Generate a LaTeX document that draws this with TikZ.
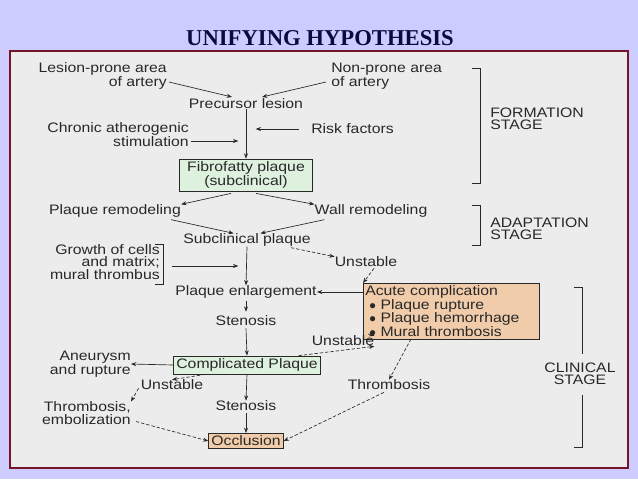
\documentclass[tikz,border=0pt]{standalone}
\usepackage{fontspec}
\setmainfont[FakeStretch=1.15]{Liberation Sans}
\newfontfamily\titlefont{Liberation Serif}
\usetikzlibrary{arrows.meta}
\definecolor{bgl}{RGB}{204,204,255}
\definecolor{panel}{RGB}{236,236,236}
\definecolor{frame}{RGB}{120,20,40}
\definecolor{gbox}{RGB}{222,240,222}
\definecolor{obox}{RGB}{240,204,170}
\definecolor{ttl}{RGB}{10,10,60}
\definecolor{ink}{RGB}{40,40,40}
\begin{document}
\begin{tikzpicture}[x=0.75pt,y=-0.75pt,
  lbl/.style={inner sep=0pt,font=\fontsize{10.3}{9.3}\selectfont,text=ink},
  lr/.style={lbl,align=right},
  ll/.style={lbl,align=left},
  lc/.style={lbl,align=center},
  boxg/.style={lbl,draw=ink,fill=gbox,inner sep=2pt},
  boxo/.style={lbl,draw=ink,fill=obox,inner sep=2pt},
  ar/.style={-{Stealth[length=4pt,width=3pt]},draw=ink,line width=0.5pt},
  dar/.style={ar,dashed,dash pattern=on 2.5pt off 1.5pt},
  brk/.style={draw=ink,line width=0.5pt}]
\useasboundingbox (0,0) rectangle (638,479);
\fill[bgl] (0,0) rectangle (638,479);
\filldraw[fill=panel,draw=frame,line width=0.8pt] (10,51) rectangle (628,468);
\node[font=\titlefont\bfseries\fontsize{17}{17}\selectfont,text=ttl] (title) at (320,38) {UNIFYING HYPOTHESIS};

\node[lr,anchor=east] (lp) at (167,76) {Lesion-prone area\\of artery};
\node[ll,anchor=west] (np) at (331,76) {Non-prone area\\of artery};
\node[lc] (pl) at (246,104) {Precursor lesion};
\node[lr,anchor=east] (ch) at (189,135) {Chronic atherogenic\\stimulation};
\node[ll,anchor=west] (rf) at (311,129) {Risk factors};
\node[boxg,align=center,minimum width=133*0.75pt] (ff) at (246,175) {Fibrofatty plaque\\(subclinical)};
\node[lc] (pr) at (115,211) {Plaque remodeling};
\node[lc] (wr) at (371,211) {Wall remodeling};
\node[lc] (sp) at (247,240) {Subclinical plaque};
\node[lr,anchor=east] (gr) at (160,262) {Growth of cells\\and matrix;\\mural thrombus};
\node[lc] (un1) at (366,262) {Unstable};
\node[boxo,align=left,anchor=north west,text width=172*0.75pt,font=\fontsize{10.3}{10.4}\selectfont,inner sep=1.5pt] (ac) at (363,283)
 {Acute complication\\\hspace*{3pt}$\bullet$ Plaque rupture\\\hspace*{3pt}$\bullet$ Plaque hemorrhage\\\hspace*{3pt}$\bullet$ Mural thrombosis};
\node[lc] (pe) at (246,292) {Plaque enlargement};
\node[lc] (st1) at (246,321) {Stenosis};
\node[lc] (un2) at (343,341) {Unstable};
\node[boxg] (cp) at (247,365) {Complicated Plaque};
\node[lr,anchor=east] (an) at (131,364) {Aneurysm\\and rupture};
\node[lc] (un3) at (172,385) {Unstable};
\node[lc] (th) at (389,385) {Thrombosis};
\node[lr,anchor=east] (te) at (131,413) {Thrombosis,\\embolization};
\node[lc] (st2) at (246,406) {Stenosis};
\node[boxo] (oc) at (246,441) {Occlusion};

\coordinate (v1) at (245,129);
\coordinate (v2) at (245,141);
\coordinate (v3) at (245,266);
\coordinate (acb) at (368,334);
\coordinate (acd) at (411,339);
\draw[ar] (lp.east) ++(2,6) -- (232,97);
\draw[ar] (np.west) ++(-5,6) -- (262,97);
\draw[ar] (pl.south -| ff.north) -- (ff.north);
\draw[ar] (rf.west) ++(-12,0) -- ([xshift=8pt]v1);
\draw[ar] (ch.east) ++(2,6) -- ([xshift=-5pt]v2);
\draw[ar] (ff.south) ++(-15,2) -- (pr.north east);
\draw[ar] (ff.south) ++(10,2) -- (wr.north west);
\draw[ar] (pr.south east) ++(-10,2) -- ([xshift=-10]sp.north);
\draw[ar] (wr.south west) ++(10,2) -- ([xshift=10]sp.north);
\draw[brk] (155,244) -- (163,244) -- (163,284) -- (155,284);
\draw[ar] (172,266) -- ([xshift=-5pt]v3);
\draw[ar] (sp.south) -- (pe.north);
\draw[dar] (sp.south east) ++(-20,1) -- (un1.north west);
\draw[dar] (un1.south) ++(8,1) -- (ac.north west);
\draw[ar] (ac.west |- pe) -- (pe.east);
\draw[ar] (pe.south) ++(0,2) -- ([yshift=3]st1.north);
\draw[ar] (st1.south) ++(0,2) -- (cp.north);
\draw[ar] (cp.west) -- (an.east);
\draw[dar] (acb) -- (un2.north east);
\draw[dar] (cp.north east) ++(-22,0) -- (un2.south east);
\draw[dar] (cp.south west) ++(32,0) -- (un3.north);
\draw[dar] (un3.south west) ++(-2,-2) -- (te.north east);
\draw[dar] (acd) -- (th.north);
\draw[ar] (cp.south) -- (st2.north);
\draw[ar] (st2.south) ++(0,2) -- (oc.north);
\draw[dar] (te.south east) ++(5,-3) -- (oc.west);
\draw[dar] (th.south) ++(-5,2) -- (oc.east);

\draw[brk] (472,68) -- (480,68) -- (480,183) -- (472,183);
\node[ll,anchor=west] (fs) at (490,119) {FORMATION\\STAGE};
\draw[brk] (472,205) -- (480,205) -- (480,245) -- (472,245);
\node[ll,anchor=west] (as) at (490,229) {ADAPTATION\\STAGE};
\draw[brk] (574,287) -- (582,287) -- (582,354);
\draw[brk] (582,395) -- (582,447) -- (574,447);
\node[lc] (cs) at (580,374) {CLINICAL\\STAGE};
\end{tikzpicture}
\end{document}
